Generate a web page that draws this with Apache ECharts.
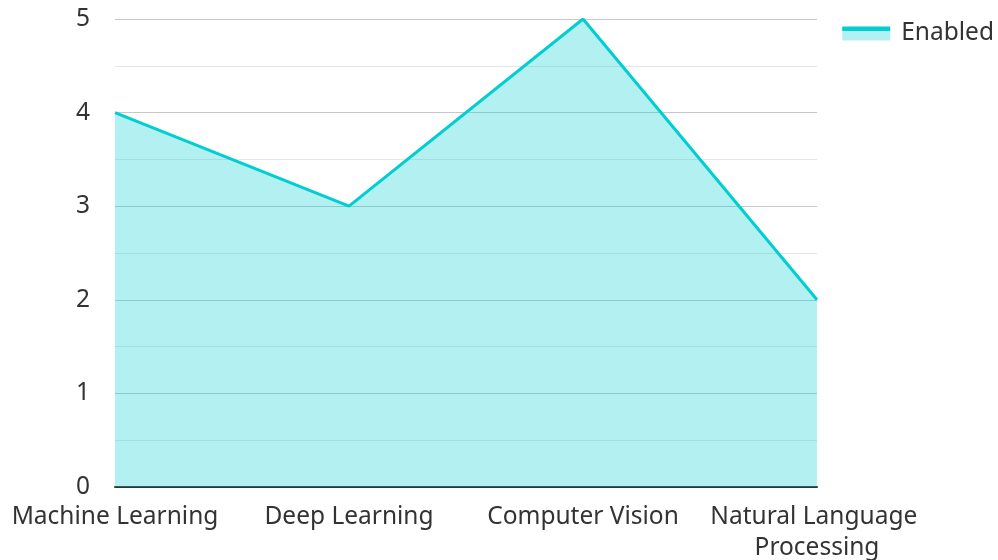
<!DOCTYPE html>
<html>
<head>
<meta charset="utf-8">
<script src="https://cdn.jsdelivr.net/npm/echarts@6/dist/echarts.min.js"></script>
<style>
    html, body { margin: 0; padding: 0; background: #fff; }
    #chart { width: 998px; height: 560px; }
</style>
</head>
<body>
<div id="chart"></div>
<script>
var categories = ['Machine Learning', 'Deep Learning', 'Computer Vision', 'Natural Language Processing'];
var enabledValues = [4, 3, 5, 2];
var seriesName = 'Enabled';

var chart = echarts.init(document.getElementById('chart'));
var font = '"Noto Sans", sans-serif';
var teal = '#00CED1';

var option = {
    animation: false,
    textStyle: {fontFamily: font},
    legend: {
        right: -1,
        top: 16,
        itemWidth: 48,
        itemHeight: 14,
        icon: 'rect',
        itemStyle: {
            // teal band on top, light area below (line + fill)
            color: new echarts.graphic.LinearGradient(0, 0, 0, 1, [
                {offset: 0, color: teal},
                {offset: 0.29, color: teal},
                {offset: 0.29, color: 'rgba(0,206,209,0.3)'},
                {offset: 1, color: 'rgba(0,206,209,0.3)'}
            ])
        },
        textStyle: {fontSize: 24.5, color: '#333', fontFamily: font, padding: [0, 0, 0, 6]},
        data: [seriesName]
    },
    grid: {left: 115, right: 181, top: 19, bottom: 73, outerBoundsMode: 'none', containLabel: false},
    xAxis: {
        type: 'category',
        boundaryGap: false,
        data: categories,
        axisLine: {lineStyle: {color: '#333', width: 2}},
        axisTick: {show: false},
        axisLabel: {
            interval: 0,
            fontSize: 24.5,
            color: '#333',
            margin: 15,
            width: 235,
            overflow: 'break',
            lineHeight: 31,
            fontFamily: font
        }
    },
    yAxis: {
        type: 'value',
        min: 0,
        max: 5,
        interval: 1,
        axisLine: {show: false},
        axisTick: {show: false},
        axisLabel: {fontSize: 24.5, color: '#333', margin: 25, fontFamily: font},
        splitLine: {lineStyle: {color: '#c8c8c8', width: 1}},
        minorTick: {show: false, splitNumber: 2},
        minorSplitLine: {show: true, lineStyle: {color: '#e6e6e6', width: 1}}
    },
    series: [{
        name: seriesName,
        type: 'line',
        data: enabledValues,
        symbol: 'none',
        lineStyle: {color: teal, width: 3},
        itemStyle: {color: teal},
        areaStyle: {color: teal, opacity: 0.3}
    }]
};

chart.setOption(option);
</script>
</body>
</html>
